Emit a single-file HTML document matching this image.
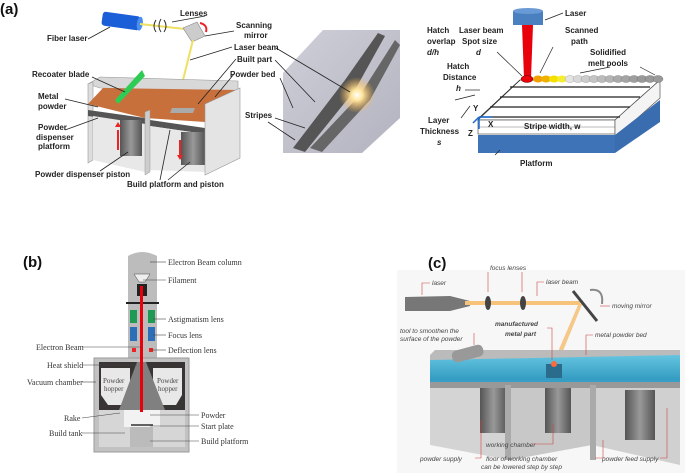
<!DOCTYPE html>
<html><head><meta charset="utf-8"><style>
html,body{margin:0;padding:0;background:#fff;width:685px;height:473px;overflow:hidden}
svg{display:block}
.a{font-family:"Liberation Sans",sans-serif;font-weight:bold;font-size:8px;fill:#222}
.b{font-family:"Liberation Serif",serif;font-size:8px;fill:#333}
.c{font-family:"Liberation Sans",sans-serif;font-style:italic;font-size:6.5px;fill:#444}
.p{font-family:"Liberation Sans",sans-serif;font-weight:bold;font-size:15px;fill:#111}
</style></head><body>
<svg width="685" height="473" viewBox="0 0 685 473" xmlns="http://www.w3.org/2000/svg">
<defs>
<radialGradient id="glow"><stop offset="0" stop-color="#fff"/><stop offset="0.3" stop-color="#ffe7a0"/><stop offset="1" stop-color="#ffb040" stop-opacity="0"/></radialGradient>
<linearGradient id="ph" x1="0" y1="0" x2="1" y2="1"><stop offset="0" stop-color="#cfcfd8"/><stop offset="1" stop-color="#b3b3c0"/></linearGradient>
<linearGradient id="cyl" x1="0" x2="1"><stop offset="0" stop-color="#555"/><stop offset="0.5" stop-color="#999"/><stop offset="1" stop-color="#555"/></linearGradient>
<linearGradient id="water" x1="0" y1="0" x2="0" y2="1"><stop offset="0" stop-color="#5cc6e4"/><stop offset="1" stop-color="#1f93bf"/></linearGradient>
</defs>

<!-- ===== (a) left ===== -->
<text class="p" x="0" y="14">(a)</text>
<g transform="rotate(8 121 21)"><rect x="102" y="14" width="38" height="14" rx="3" fill="#1a5fd8"/><ellipse cx="140" cy="21" rx="3" ry="7" fill="#4b8ef0"/></g>
<line x1="140" y1="24" x2="185" y2="29" stroke="#eee060" stroke-width="2"/>
<path d="M156 20 q-4 6 0 12 M161 19 q-4 7 0 13 M164 20 q4 6 0 12" stroke="#333" fill="none" stroke-width="1"/>
<polygon points="183,28 197,22 205,36 192,42" fill="#ccc" stroke="#888" stroke-width="0.6"/>
<path d="M200 23 q8 2 6 9" stroke="#e22" stroke-width="2" fill="none"/>
<line x1="193" y1="40" x2="175" y2="112" stroke="#eee060" stroke-width="2"/>
<text class="a" x="47" y="41">Fiber laser</text>
<text class="a" x="180" y="16">Lenses</text>
<text class="a" x="236" y="28">Scanning</text><text class="a" x="244" y="38">mirror</text>
<text class="a" x="234" y="50">Laser beam</text>
<text class="a" x="237" y="62">Built part</text>
<text class="a" x="230" y="77">Powder bed</text>
<text class="a" x="32" y="77">Recoater blade</text>
<text class="a" x="38" y="99">Metal</text><text class="a" x="38" y="109">powder</text>
<text class="a" x="38" y="130">Powder</text><text class="a" x="36" y="140">dispenser</text><text class="a" x="38" y="149">platform</text>
<!-- box -->
<polygon points="88,84 100,77 238,81 238,92 100,88" fill="#d8d8d8" stroke="#999" stroke-width="0.6"/>
<polygon points="88,84 93,82 93,160 88,163" fill="#ddd" stroke="#999" stroke-width="0.6"/>
<polygon points="88,104 103,88 238,90 222,104 205,122 145,118" fill="#c8703c"/>
<polygon points="88,110 145,118 145,124 88,116" fill="#555"/>
<polygon points="150,120 205,128 205,134 150,126" fill="#555"/>
<polygon points="93,116 145,124 145,172 93,160" fill="#e8e8e8"/>
<polygon points="150,126 205,134 205,172 150,170" fill="#e8e8e8"/>
<rect x="120" y="120" width="22" height="36" fill="url(#cyl)"/>
<rect x="181" y="132" width="24" height="33" fill="url(#cyl)"/>
<polygon points="145,112 150,110 150,172 145,175" fill="#ccc" stroke="#999" stroke-width="0.5"/>
<polygon points="205,104 240,88 240,158 205,175" fill="#e4e4e4" stroke="#999" stroke-width="0.6"/>
<polygon points="115,100 142,70 145,76 118,104" fill="#2ecc55"/>
<polygon points="172,108 195,108 193,113 170,113" fill="#aaa"/>
<path d="M118 130 v20 M180 140 v16" stroke="#e22" stroke-width="2"/>
<polygon points="115,127 121,127 118,122" fill="#e22"/><polygon points="177,155 183,155 180,160" fill="#e22"/>
<text class="a" x="35" y="177">Powder dispenser piston</text>
<text class="a" x="127" y="187">Build platform and piston</text>
<g stroke="#222" stroke-width="0.8">
<line x1="88" y1="39" x2="110" y2="27"/><line x1="205" y1="16" x2="172" y2="22"/>
<line x1="234" y1="31" x2="205" y2="36"/><line x1="232" y1="47" x2="190" y2="60"/>
<line x1="236" y1="59" x2="198" y2="104"/><line x1="234" y1="74" x2="215" y2="97"/>
<line x1="92" y1="77" x2="125" y2="92"/><line x1="65" y1="99" x2="98" y2="107"/>
<line x1="65" y1="130" x2="98" y2="118"/><line x1="100" y1="171" x2="128" y2="152"/>
<line x1="160" y1="180" x2="170" y2="130"/><line x1="168" y1="180" x2="190" y2="162"/>
</g>
<!-- photo -->
<polygon points="283,73 323,30 400,30 400,118 362,153 283,153" fill="url(#ph)"/>
<path d="M293,148 L345,80 L378,33 L385,36 L355,90 L305,152 Z" fill="#555"/>
<path d="M310,148 L360,95 L395,40 L400,45 L370,100 L322,152 Z" fill="#666"/>
<circle cx="357" cy="95" r="18" fill="url(#glow)"/>
<text class="a" x="245" y="118">Stripes</text>
<g stroke="#222" stroke-width="0.8"><line x1="276" y1="48" x2="350" y2="92"/><line x1="275" y1="60" x2="315" y2="102"/><line x1="280" y1="78" x2="293" y2="108"/><line x1="275" y1="118" x2="305" y2="128"/><line x1="268" y1="122" x2="295" y2="140"/></g>

<!-- ===== (a) right ===== -->
<rect x="513" y="11" width="30" height="14" fill="#4a7fc0"/><ellipse cx="528" cy="11" rx="15" ry="3" fill="#6a9ad6"/>
<polygon points="522,25 533,25 531,78 524,78" fill="#e8000a"/>
<text class="a" x="565" y="16">Laser</text><line x1="563" y1="13" x2="545" y2="20" stroke="#222" stroke-width="0.7"/>
<polygon points="520,80 660,80 615,120 478,120" fill="#fff" stroke="#444" stroke-width="0.8"/>
<rect x="478" y="120" width="137" height="14" fill="#fff" stroke="#555" stroke-width="0.7"/>
<line x1="478" y1="127" x2="615" y2="127" stroke="#777" stroke-width="0.5"/>
<polygon points="615,120 660,80 660,98 615,138" fill="#f4f4f4" stroke="#555" stroke-width="0.7"/>
<rect x="478" y="135" width="137" height="18" fill="#3f73b8"/>
<polygon points="615,135 660,100 660,122 615,153" fill="#3a6db0"/>
<g stroke="#222" stroke-width="1.2"><line x1="510" y1="87" x2="650" y2="87"/><line x1="500" y1="97" x2="640" y2="97"/><line x1="490" y1="107" x2="630" y2="107"/><line x1="480" y1="117" x2="620" y2="117"/></g>
<g stroke="#222" stroke-width="0.8"><line x1="480" y1="117" x2="520" y2="80"/></g>
<g>
<ellipse cx="527" cy="79" rx="6" ry="3.5" fill="#e8000a" stroke="#600" stroke-width="0.5"/>
<ellipse cx="538" cy="79" rx="5" ry="3.5" fill="#f0a000"/><ellipse cx="546" cy="79" rx="5" ry="3.5" fill="#f0b000"/>
<ellipse cx="554" cy="79" rx="5" ry="3.5" fill="#f5e000"/><ellipse cx="562" cy="79" rx="5" ry="3.5" fill="#f5ee30"/>
<ellipse cx="570" cy="79" rx="5" ry="3.5" fill="#e4e4e4" stroke="#999" stroke-width="0.4"/>
<ellipse cx="578" cy="79" rx="5" ry="3.5" fill="#d8d8d8" stroke="#999" stroke-width="0.4"/>
<ellipse cx="586" cy="79" rx="5" ry="3.5" fill="#ccc" stroke="#888" stroke-width="0.4"/>
<ellipse cx="594" cy="79" rx="5" ry="3.5" fill="#c4c4c4" stroke="#888" stroke-width="0.4"/>
<ellipse cx="602" cy="79" rx="5" ry="3.5" fill="#bbb" stroke="#888" stroke-width="0.4"/>
<ellipse cx="610" cy="79" rx="5" ry="3.5" fill="#b4b4b4" stroke="#888" stroke-width="0.4"/>
<ellipse cx="618" cy="79" rx="5" ry="3.5" fill="#aaa" stroke="#777" stroke-width="0.4"/>
<ellipse cx="626" cy="79" rx="5" ry="3.5" fill="#a4a4a4" stroke="#777" stroke-width="0.4"/>
<ellipse cx="634" cy="79" rx="5" ry="3.5" fill="#9e9e9e" stroke="#777" stroke-width="0.4"/>
<ellipse cx="642" cy="79" rx="5" ry="3.5" fill="#999" stroke="#666" stroke-width="0.4"/>
<ellipse cx="650" cy="79" rx="5" ry="3.5" fill="#999" stroke="#666" stroke-width="0.4"/>
<ellipse cx="658" cy="79" rx="5" ry="3.5" fill="#999" stroke="#666" stroke-width="0.4"/>
</g>
<text class="a" x="427" y="33">Hatch</text><text class="a" x="427" y="44">overlap</text><text class="a" x="427" y="55" font-style="italic">d/h</text>
<text class="a" x="459" y="33">Laser beam</text><text class="a" x="462" y="44">Spot size</text><text class="a" x="476" y="55" font-style="italic">d</text>
<text class="a" x="565" y="33">Scanned</text><text class="a" x="571" y="44">path</text>
<text class="a" x="590" y="55">Solidified</text><text class="a" x="588" y="66">melt pools</text>
<text class="a" x="447" y="69">Hatch</text><text class="a" x="443" y="80">Distance</text><text class="a" x="456" y="91" font-style="italic">h</text>
<text class="a" x="428" y="123">Layer</text><text class="a" x="420" y="134">Thickness</text><text class="a" x="437" y="145" font-style="italic">s</text>
<text class="a" x="524" y="129">Stripe width, w</text>
<text class="a" x="520" y="166">Platform</text>
<text class="a" x="473" y="111" fill="#1a6ad0">Y</text><text class="a" x="488" y="127" fill="#1a6ad0">X</text><text class="a" x="468" y="136" fill="#1a6ad0">Z</text>
<path d="M479 117 h13 M479 117 v12 M479 117 l-6 6" stroke="#1a6ad0" stroke-width="1.5" fill="none"/>
<g stroke="#222" stroke-width="0.7"><line x1="497" y1="52" x2="522" y2="76"/><line x1="553" y1="47" x2="540" y2="73"/><line x1="610" y1="67" x2="580" y2="73"/><line x1="640" y1="67" x2="655" y2="75"/><line x1="465" y1="90" x2="480" y2="90"/><line x1="455" y1="100" x2="475" y2="95"/><line x1="461" y1="118" x2="470" y2="106"/><line x1="495" y1="155" x2="500" y2="150"/></g>

<!-- ===== (b) ===== -->
<text class="p" x="23" y="267">(b)</text>
<path d="M128 256 q14 -8 29 0 v104 h-29 z" fill="#bcbcbc"/>
<rect x="94" y="358" width="95" height="94" fill="#c2c2c2" stroke="#999"/>
<rect x="99" y="362" width="86" height="48" fill="#3a3535"/>
<rect x="99" y="410" width="86" height="37" fill="#d6d6d6"/>
<polygon points="101,368 130,368 130,395 124,405 108,405 101,395" fill="#e8e8e8"/>
<polygon points="153,368 182,368 182,395 176,405 160,405 153,395" fill="#e8e8e8"/>
<polygon points="137,362 146,362 165,410 119,410" fill="#808080"/>
<rect x="124" y="410" width="36" height="17" fill="#f2f2f2"/>
<rect x="130" y="427" width="23" height="20" fill="#bbb"/>
<line x1="131" y1="425" x2="153" y2="425" stroke="#333" stroke-width="1.5"/>
<rect x="137" y="284" width="10" height="12" fill="#222"/>
<polygon points="134,274 150,274 145,282 139,282" fill="#eee" stroke="#444" stroke-width="0.5"/>
<rect x="126" y="302" width="33" height="2" fill="#222"/>
<rect x="130" y="310" width="7" height="13" fill="#1f9a55"/><rect x="148" y="310" width="7" height="13" fill="#1f9a55"/>
<rect x="130" y="327" width="7" height="14" fill="#2c6fb8"/><rect x="148" y="327" width="7" height="14" fill="#2c6fb8"/>
<rect x="132" y="348" width="4" height="4" fill="#e22"/><rect x="149" y="348" width="4" height="4" fill="#e22"/>
<rect x="140" y="286" width="3" height="126" fill="#e8000a"/>
<g class="b">
<text x="168" y="265">Electron Beam column</text><text x="168" y="283">Filament</text>
<text x="168" y="322">Astigmatism lens</text><text x="168" y="338">Focus lens</text><text x="168" y="353">Deflection lens</text>
<text x="201" y="418">Powder</text><text x="201" y="429">Start plate</text><text x="201" y="444">Build platform</text>
<text x="36" y="350">Electron Beam</text><text x="47" y="368">Heat shield</text><text x="27" y="385">Vacuum chamber</text>
<text x="64" y="421">Rake</text><text x="49" y="436">Build tank</text>
<text x="103" y="383" font-size="7" fill="#444">Powder</text><text x="104" y="391" font-size="7" fill="#444">hopper</text>
<text x="157" y="383" font-size="7" fill="#444">Powder</text><text x="158" y="391" font-size="7" fill="#444">hopper</text>
</g>
<g stroke="#444" stroke-width="0.6"><line x1="150" y1="262" x2="166" y2="262"/><line x1="143" y1="280" x2="166" y2="280"/><line x1="153" y1="319" x2="166" y2="319"/><line x1="153" y1="335" x2="166" y2="335"/><line x1="151" y1="350" x2="166" y2="350"/><line x1="150" y1="415" x2="199" y2="415"/><line x1="150" y1="426" x2="199" y2="426"/><line x1="150" y1="441" x2="199" y2="441"/><line x1="82" y1="347" x2="140" y2="347"/><line x1="82" y1="365" x2="137" y2="365"/><line x1="82" y1="382" x2="96" y2="382"/><line x1="82" y1="418" x2="120" y2="413"/><line x1="82" y1="433" x2="125" y2="433"/></g>

<!-- ===== (c) ===== -->
<rect x="397" y="270" width="288" height="203" fill="#f7f7f7"/>
<text class="p" x="428" y="268">(c)</text>
<polygon points="405,297 450,296 470,301 470,306 450,311 405,311" fill="#777"/>
<rect x="465" y="301" width="115" height="4" fill="#f7c27a"/>
<ellipse cx="488" cy="303" rx="3" ry="7" fill="#444"/><ellipse cx="523" cy="303" rx="3" ry="7" fill="#444"/>
<polygon points="578,305 583,302 556,368 551,368" fill="#f5c888"/>
<line x1="573" y1="291" x2="597" y2="321" stroke="#444" stroke-width="3"/>
<path d="M590 290 q14 -2 12 14" stroke="#888" stroke-width="2" fill="none"/>
<polygon points="430,355 435,350 680,350 680,380 430,380" fill="#bbb"/>
<polygon points="430,360 680,355 680,382 430,382" fill="url(#water)" opacity="0.9"/>
<rect x="430" y="382" width="250" height="6" fill="#999"/>
<polygon points="430,388 510,388 510,460 430,445" fill="#d4d4d4"/>
<polygon points="510,388 592,388 592,445 510,460" fill="#c8c8c8"/>
<polygon points="592,388 680,388 680,465 592,445" fill="#d0d0d0"/>
<rect x="480" y="388" width="27" height="45" fill="url(#cyl)"/>
<rect x="545" y="388" width="26" height="45" fill="url(#cyl)"/>
<rect x="625" y="390" width="30" height="50" fill="url(#cyl)"/>
<rect x="505" y="385" width="6" height="75" fill="#aaa"/><rect x="590" y="385" width="6" height="75" fill="#aaa"/>
<rect x="546" y="364" width="16" height="14" fill="#2b6c8c"/>
<circle cx="554" cy="364" r="3" fill="#ff6a3a"/>
<g transform="rotate(-15 466 355)"><rect x="452" y="348" width="32" height="12" rx="5" fill="#999"/></g>
<text class="c" x="432" y="285">laser</text><text class="c" x="490" y="270">focus lenses</text>
<text class="c" x="546" y="284">laser beam</text><text class="c" x="612" y="308">moving mirror</text>
<text class="c" x="495" y="326" font-weight="bold" fill="#333">manufactured</text><text class="c" x="505" y="336" font-weight="bold" fill="#333">metal part</text>
<text class="c" x="400" y="333">tool to smoothen the</text><text class="c" x="400" y="341">surface of the powder</text>
<text class="c" x="595" y="337">metal powder bed</text>
<text class="c" x="486" y="447">working chamber</text>
<text class="c" x="420" y="461">powder supply</text>
<text class="c" x="486" y="461">floor of working chamber</text><text class="c" x="481" y="469">can be lowered step by step</text>
<text class="c" x="602" y="461">powder feed supply</text>
<g stroke="#c44" stroke-width="0.6" fill="none"><path d="M430 283 h-8 v12"/><path d="M488 272 v20 M522 272 v20"/><path d="M544 282 h-7 v14"/><path d="M610 306 h-10"/><path d="M547 328 h5 v32"/><path d="M593 335 h-7 v20"/><path d="M474 333 v12"/><path d="M475 458 h6 v-38 M533 444 h20 v-20 M595 458 h8 v-18 M660 458 h7 v-50"/></g>
</svg>
</body></html>
